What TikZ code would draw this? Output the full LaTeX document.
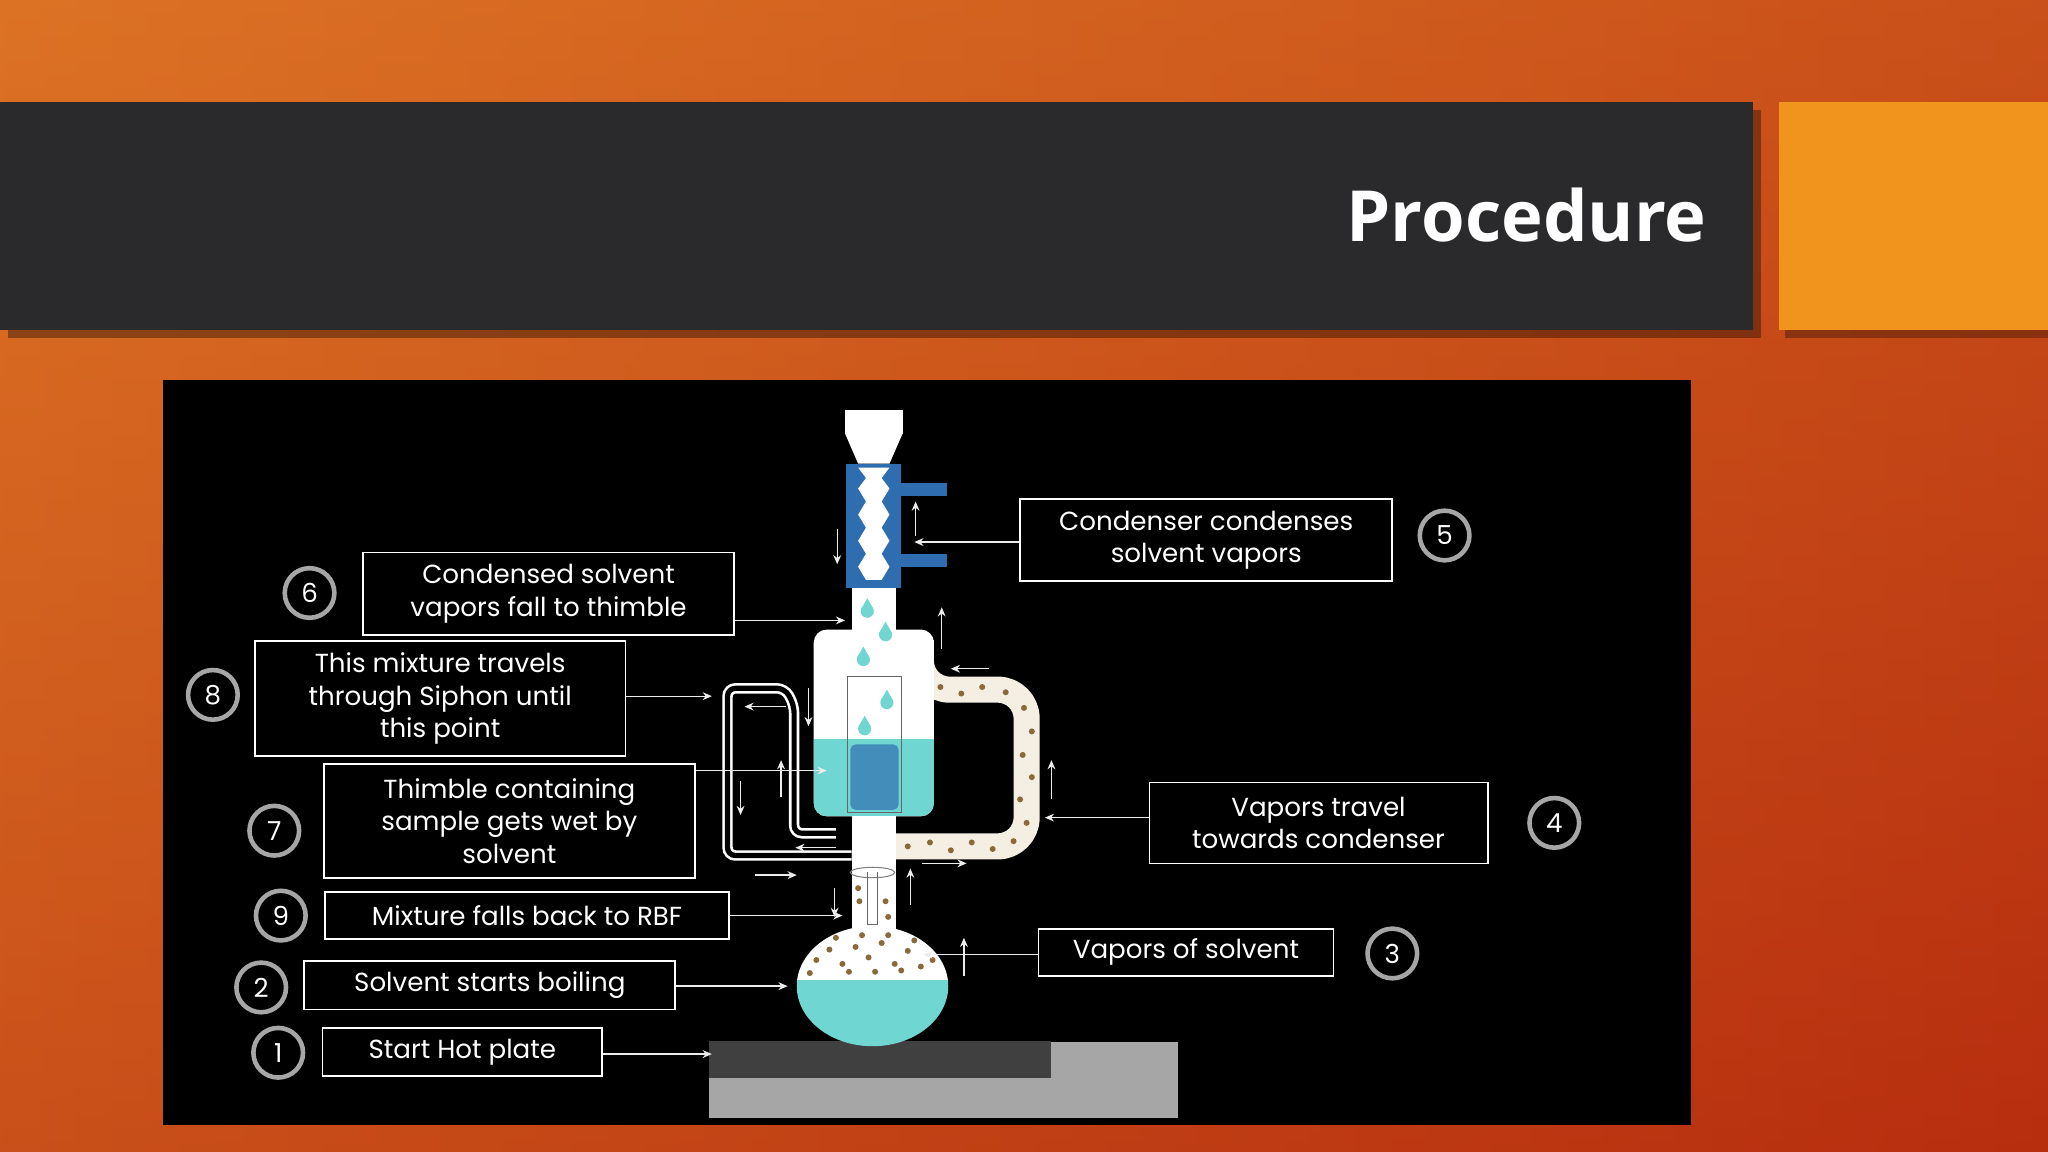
\documentclass[tikz,border=0pt]{standalone}
\usepackage{fontspec}
\setmainfont{Poppins}
\newfontfamily\titlefont{Open Sans}
\usetikzlibrary{arrows.meta}
\definecolor{bgA}{HTML}{E98A2C}
\definecolor{bgB}{HTML}{B52A0E}
\definecolor{bar}{HTML}{2A2A2C}
\definecolor{sq}{HTML}{F0941E}
\definecolor{cyanl}{HTML}{6FD6D2}
\definecolor{condb}{HTML}{2E6DB0}
\definecolor{cream}{HTML}{F4EFE2}
\definecolor{dotc}{HTML}{8A6A3A}
\tikzset{
  lbl/.style={draw=white,line width=1.3pt,text=white,align=center,inner sep=0pt,font=\fontsize{20}{25}\selectfont},
  num/.style={circle,fill=black,draw=gray!70,line width=3.5pt,minimum size=38pt,inner sep=0pt,text=white,font=\fontsize{20}{22}\selectfont},
  conn/.style={white!85!gray,line width=1pt,-{Stealth[length=7pt,width=6pt]}},
  flow/.style={white!85!gray,line width=1pt,-{Stealth[length=7pt,width=6pt]}},
}
\begin{document}
\begin{tikzpicture}[x=1pt,y=-1pt]
\useasboundingbox (0,0) rectangle (1568,882);
\shade[top color=bgA,bottom color=bgB!90!bgA, shading angle=0] (0,0) rectangle (1568,882);
\shade[left color=bgA!60!bgB,right color=bgB,opacity=0.6] (0,0) rectangle (1568,882);
\fill[black,opacity=0.35] (6,84) rectangle (1348,259);
\fill[bar] (0,78) rectangle (1342,253);
\node[text=white,anchor=east,font=\titlefont\bfseries\fontsize{54}{60}\selectfont] (title) at (1310,165) {Procedure};
\fill[black,opacity=0.3] (1367,84) rectangle (1568,259);
\fill[sq] (1362,78) rectangle (1568,253);
\fill[black] (125,291) rectangle (1295,861);
\fill[gray!70] (543,798) rectangle (902,856);
\fill[black!75] (543,797) rectangle (805,825);
\begin{scope}
\clip (668,755) ellipse (58 and 46);
\fill[white] (600,700) rectangle (740,750);
\fill[cyanl] (600,750) rectangle (740,810);
\end{scope}
\foreach \x/\y in {625/735,635/727,645/738,655/725,665/733,675/722,685/738,695/728,705/740,650/744,670/744,690/743,640/718,660/716,680/716,700/720,714/735,620/745}
  \fill[dotc] (\x,\y) circle (2.3);
\draw[cream,line width=20pt,rounded corners=22pt,line join=round] (676,648) -- (786,648) -- (786,528) -- (705,528) -- (705,490);
\foreach \x/\y in {695/648,712/645,728/651,744/645,760/650,776/644,786/630,781/612,790/595,783/578,790/560,784/542,770/530,752/526,736/531,720/526,706/515,702/500}
  \fill[dotc] (\x,\y) circle (2.3);
\fill[white] (652,622) rectangle (686,712);
\draw[black!50,line width=0.8pt] (668,668) ellipse (17 and 4);
\draw[black!60,line width=1pt] (664,668) -- (664,708) -- (672,708) -- (672,668);
\foreach \x/\y in {678/690,658/690,680/702,657/680}
  \fill[dotc] (\x,\y) circle (2.3);
\draw[white,line width=8pt,rounded corners=6pt] (652,655) -- (557,655) -- (557,527) -- (601,527) -- (608,540) -- (608,638) -- (640,638);
\draw[black,line width=4pt,rounded corners=6pt] (652,655) -- (557,655) -- (557,527) -- (601,527) -- (608,540) -- (608,638) -- (640,638);
\fill[white,rounded corners=10pt] (623,482) rectangle (715,625);
\begin{scope}
\clip[rounded corners=10pt] (623,482) rectangle (715,625);
\fill[cyanl] (623,566) rectangle (715,625);
\end{scope}
\draw[black!60,line width=1pt] (649,518) rectangle (690,622);
\fill[condb!70!cyanl,rounded corners=4pt] (651,570) rectangle (688,620);
\fill[white] (652,448) rectangle (686,484);
\fill[condb] (690,370) rectangle (725,380);
\fill[condb] (690,424) rectangle (725,434);
\fill[condb] (648,355) rectangle (690,450);
\fill[white] (657,358) -- (663,366) -- (657,374) -- (663,384) -- (657,394) -- (663,404) -- (657,414) -- (663,424) -- (657,434) -- (663,444)
  -- (675,444) -- (681,434) -- (675,424) -- (681,414) -- (675,404) -- (681,394) -- (675,384) -- (681,374) -- (675,366) -- (681,358) -- cycle;
\fill[white] (647,314) rectangle (691,332);
\fill[white] (647,332) -- (691,332) -- (681,355) -- (657,355) -- cycle;
\foreach \x/\y in {664/468,678/486,661/505,679/538,662/558}{
  \fill[cyanl] (\x,\y) circle (5);
  \fill[cyanl] (\x,{\y-10}) -- ({\x-4.8},{\y-1.5}) -- ({\x+4.8},{\y-1.5}) -- cycle;
}
\draw[flow] (641,405) -- (641,432);
\draw[flow] (701,410) -- (701,384);
\draw[flow] (721,497) -- (721,465);
\draw[flow] (757,512) -- (728,512);
\draw[flow] (619,527) -- (619,556);
\draw[flow] (602,541) -- (570,541);
\draw[flow] (567,598) -- (567,624);
\draw[flow] (598,610) -- (598,582);
\draw[flow] (640,649) -- (609,649);
\draw[flow] (578,670) -- (610,670);
\draw[flow] (706,661) -- (740,661);
\draw[flow] (697,693) -- (697,665);
\draw[flow] (639,680) -- (639,702);
\draw[flow] (805,612) -- (805,582);
\draw[flow] (738,747) -- (738,718);
\coordinate (t5) at (700,415); \coordinate (t6) at (647,475);
\coordinate (t8) at (545,533); \coordinate (t7) at (633,590);
\coordinate (t4) at (800,626); \coordinate (t9) at (645,701);
\coordinate (t3) at (707,731); \coordinate (t2) at (603,755);
\coordinate (t1) at (545,807);
\node[lbl,minimum width=285pt,minimum height=63pt] (b5) at (923.5,413.5) {Condenser condenses\\solvent vapors};
\node[lbl,minimum width=284pt,minimum height=63pt] (b6) at (420,454.5) {Condensed solvent\\vapors fall to thimble};
\node[lbl,minimum width=284pt,minimum height=88pt] (b8) at (337,535) {This mixture travels\\through Siphon until\\this point};
\node[lbl,minimum width=284pt,minimum height=87pt] (b7) at (390,628.5) {Thimble containing\\sample gets wet by\\solvent};
\node[lbl,minimum width=259pt,minimum height=62pt] (b4) at (1009.5,630) {Vapors travel\\towards condenser};
\node[lbl,minimum width=309pt,minimum height=36pt] (b9) at (403.5,701) {Mixture falls back to RBF};
\node[lbl,minimum width=226pt,minimum height=36pt] (b3) at (908,729) {Vapors of solvent};
\node[lbl,minimum width=284pt,minimum height=37pt] (b2) at (375,754.5) {Solvent starts boiling};
\node[lbl,minimum width=214pt,minimum height=37pt] (b1) at (354,805.5) {Start Hot plate};
\node[num] (n5) at (1106,410) {5};
\node[num] (n6) at (237,454) {6};
\node[num] (n8) at (163,532) {8};
\node[num] (n7) at (210,636) {7};
\node[num] (n4) at (1190,630) {4};
\node[num] (n9) at (215,701) {9};
\node[num] (n3) at (1066,730) {3};
\node[num] (n2) at (200,756) {2};
\node[num] (n1) at (213,806) {1};
\draw[conn] (b5.west |- t5) -- (t5);
\draw[conn] (b6.east |- t6) -- (t6);
\draw[conn] (b8.east |- t8) -- (t8);
\draw[conn] (b7.east |- t7) -- (t7);
\draw[conn] (b4.west |- t4) -- (t4);
\draw[conn] (b9.east |- t9) -- (t9);
\draw[conn] (b3.west |- t3) -- (t3);
\draw[conn] (b2.east |- t2) -- (t2);
\draw[conn] (b1.east |- t1) -- (t1);
\end{tikzpicture}
\end{document}
